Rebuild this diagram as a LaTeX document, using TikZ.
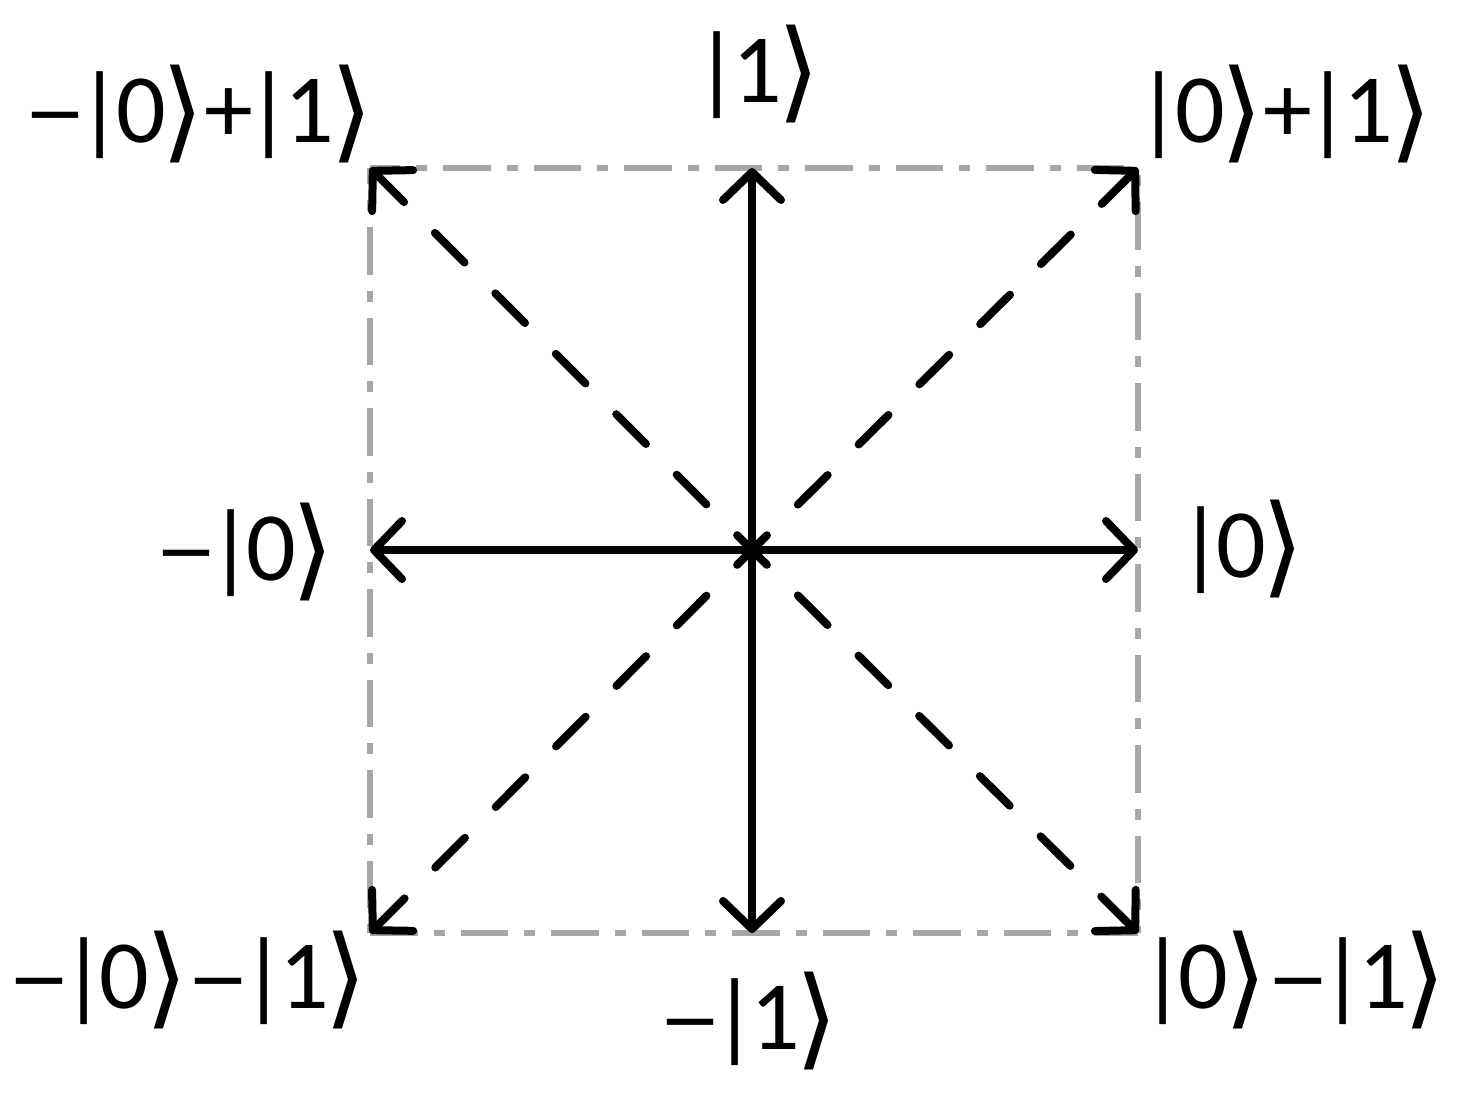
\documentclass[tikz,border=0pt]{standalone}
\usepackage{fontspec}
\setmainfont{Carlito}
\newfontfamily\brk{DejaVu Sans}
\usetikzlibrary{arrows.meta}
\newsavebox\barbox
\newsavebox\brbox
\newcommand{\br}{\kern-7pt|\kern-7pt}
\newcommand{\ket}[1]{\sbox\barbox{|}\sbox\brbox{\brk\fontsize{110}{110}\selectfont ⟩}\br#1\kern-4pt\raisebox{\dimexpr(\ht\barbox-\dp\barbox)/2-(\ht\brbox-\dp\brbox)/2+1pt\relax}{\usebox\brbox}}
\newcommand{\mn}{\raisebox{4pt}{\brk\fontsize{74}{74}\selectfont −}\kern-2pt}
\tikzset{
  lbl/.style={inner sep=0pt, font=\fontsize{98}{110}\selectfont, anchor=center},
  axis/.style={line width=8pt, line cap=round, -{Straight Barb[length=28pt,width=58pt,round]}},
  diag/.style={axis, dash pattern=on 42pt off 43.5pt, dash phase=21pt},
  frame/.style={line width=6.5pt, draw={rgb,255:red,166;green,166;blue,166}, dash pattern=on 47.5pt off 16pt on 11pt off 16pt},
}
\begin{document}
\begin{tikzpicture}[x=1pt,y=-1pt]
\useasboundingbox (0,0) rectangle (1467,1103);
\coordinate (c) at (752,550);
\coordinate (tl) at (370,168);
\coordinate (tr) at (1138,168);
\coordinate (bl) at (370,933);
\coordinate (br) at (1138,933);
\coordinate (r) at (1138,550);
\coordinate (l) at (370,550);
\coordinate (t) at (752,168);
\coordinate (b) at (752,933);
% frame
\draw[frame, dash phase=17.5pt] (tl) -- (tr);
\draw[frame, dash phase=56.5pt] (tr) -- (br);
\draw[frame, dash phase=0pt] (bl) -- (br);
\draw[frame, dash phase=31.5pt] (tl) -- (bl);
% arrows
\draw[diag] (c) -- (tl);
\draw[diag] (c) -- (tr);
\draw[diag] (c) -- (bl);
\draw[diag] (c) -- (br);
\draw[axis] (c) -- (r);
\draw[axis] (c) -- (l);
\draw[axis] (c) -- (t);
\draw[axis] (c) -- (b);
% labels
\node[lbl] (Ltl) at (199,114) {\mn\ket{0}+\ket{1}};
\node[lbl] (Lt) at (761,74) {\ket{1}};
\node[lbl] (Ltr) at (1288,114) {\ket{0}+\ket{1}};
\node[lbl] (Ll) at (245,552) {\mn\ket{0}};
\node[lbl] (Lr) at (1245,549) {\ket{0}};
\node[lbl] (Lbl) at (188,980) {\mn\ket{0}\mn\ket{1}};
\node[lbl] (Lb) at (749,1021) {\mn\ket{1}};
\node[lbl] (Lbr) at (1297,980) {\ket{0}\mn\ket{1}};
\end{tikzpicture}
\end{document}
